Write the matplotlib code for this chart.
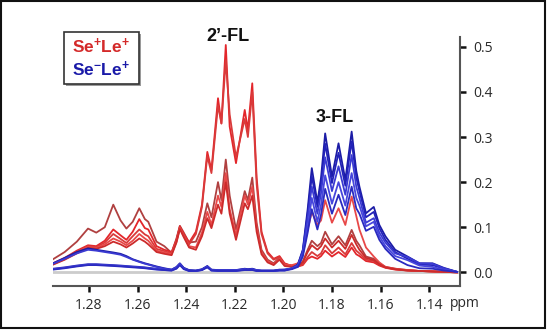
import matplotlib
matplotlib.use("Agg")
import matplotlib.pyplot as plt
from matplotlib.patches import Rectangle

plt.rcParams['mathtext.fontset'] = 'custom'
plt.rcParams['mathtext.bf'] = 'Liberation Sans:bold'
plt.rcParams['mathtext.rm'] = 'Liberation Sans'

# chemical shift grid (ppm)
ppm = [1.2948, 1.2900, 1.2850, 1.2804, 1.2770, 1.2735, 1.2700, 1.2670, 1.2646, 1.2620,
       1.2593, 1.2570, 1.2556, 1.2522, 1.2490, 1.2460, 1.2440, 1.2426, 1.2410, 1.2388,
       1.2360, 1.2335, 1.2313, 1.2296, 1.2269, 1.2255, 1.2237, 1.2221, 1.2195, 1.2159,
       1.2146, 1.2128, 1.2110, 1.2090, 1.2065, 1.2040, 1.2016, 1.1995, 1.1965, 1.1940,
       1.1920, 1.1900, 1.1883, 1.1860, 1.1845, 1.1828, 1.1800, 1.1773, 1.1745, 1.1719,
       1.1700, 1.1687, 1.1660, 1.1628, 1.1605, 1.1580, 1.1540, 1.1489, 1.1440, 1.1386,
       1.1340, 1.1285]

# Se+Le+ spectra (red)
red1 = [0.029, 0.045, 0.068, 0.097, 0.088, 0.100, 0.150, 0.115, 0.097, 0.112,
        0.142, 0.118, 0.112, 0.068, 0.058, 0.043, 0.075, 0.103, 0.088, 0.066,
        0.068, 0.100, 0.153, 0.122, 0.200, 0.160, 0.250, 0.170, 0.095, 0.180,
        0.160, 0.210, 0.110, 0.050, 0.028, 0.020, 0.033, 0.018, 0.015, 0.016,
        0.024, 0.050, 0.070, 0.058, 0.065, 0.090, 0.062, 0.080, 0.060, 0.094,
        0.070, 0.060, 0.035, 0.030, 0.020, 0.012, 0.008, 0.005, 0.003, 0.002,
        0.001, 0.000]
red2 = [0.020, 0.032, 0.048, 0.060, 0.058, 0.070, 0.095, 0.082, 0.072, 0.090,
        0.118, 0.098, 0.095, 0.058, 0.050, 0.045, 0.072, 0.102, 0.085, 0.066,
        0.090, 0.150, 0.267, 0.227, 0.386, 0.330, 0.504, 0.323, 0.242, 0.360,
        0.316, 0.419, 0.210, 0.090, 0.045, 0.030, 0.036, 0.020, 0.014, 0.013,
        0.016, 0.030, 0.035, 0.030, 0.036, 0.048, 0.035, 0.045, 0.034, 0.055,
        0.040, 0.036, 0.025, 0.022, 0.015, 0.010, 0.006, 0.004, 0.003, 0.002,
        0.001, 0.000]
red3 = [0.019, 0.030, 0.046, 0.058, 0.056, 0.066, 0.085, 0.074, 0.065, 0.080,
        0.095, 0.084, 0.080, 0.052, 0.047, 0.042, 0.070, 0.100, 0.083, 0.062,
        0.085, 0.145, 0.258, 0.220, 0.370, 0.330, 0.470, 0.350, 0.255, 0.340,
        0.300, 0.400, 0.195, 0.085, 0.042, 0.028, 0.034, 0.018, 0.013, 0.013,
        0.018, 0.034, 0.045, 0.036, 0.042, 0.060, 0.042, 0.055, 0.040, 0.065,
        0.048, 0.042, 0.028, 0.025, 0.017, 0.011, 0.007, 0.004, 0.003, 0.002,
        0.001, 0.000]
red4 = [0.018, 0.029, 0.044, 0.056, 0.054, 0.062, 0.075, 0.068, 0.060, 0.070,
        0.085, 0.075, 0.070, 0.048, 0.044, 0.040, 0.068, 0.098, 0.080, 0.058,
        0.055, 0.088, 0.134, 0.105, 0.170, 0.145, 0.220, 0.140, 0.083, 0.170,
        0.150, 0.190, 0.100, 0.045, 0.025, 0.018, 0.030, 0.017, 0.016, 0.020,
        0.040, 0.095, 0.134, 0.105, 0.115, 0.160, 0.110, 0.142, 0.105, 0.168,
        0.125, 0.095, 0.055, 0.035, 0.022, 0.012, 0.008, 0.005, 0.003, 0.002,
        0.001, 0.000]
red5 = [0.017, 0.028, 0.042, 0.054, 0.052, 0.058, 0.068, 0.062, 0.055, 0.064,
        0.075, 0.068, 0.062, 0.045, 0.041, 0.038, 0.066, 0.096, 0.078, 0.055,
        0.050, 0.080, 0.120, 0.098, 0.150, 0.130, 0.200, 0.130, 0.072, 0.153,
        0.140, 0.170, 0.090, 0.040, 0.022, 0.016, 0.028, 0.014, 0.012, 0.014,
        0.022, 0.045, 0.060, 0.050, 0.058, 0.075, 0.055, 0.070, 0.052, 0.083,
        0.062, 0.050, 0.032, 0.027, 0.018, 0.011, 0.007, 0.004, 0.003, 0.002,
        0.001, 0.000]

# Se-Le+ spectra (blue)
blue1 = [0.020, 0.032, 0.045, 0.053, 0.050, 0.047, 0.044, 0.041, 0.036, 0.029,
         0.024, 0.020, 0.018, 0.013, 0.009, 0.006, 0.012, 0.020, 0.010, 0.005,
         0.004, 0.007, 0.014, 0.006, 0.005, 0.005, 0.005, 0.005, 0.005, 0.008,
         0.007, 0.008, 0.005, 0.004, 0.004, 0.004, 0.006, 0.006, 0.008, 0.018,
         0.050, 0.140, 0.231, 0.155, 0.210, 0.308, 0.212, 0.286, 0.205, 0.312,
         0.225, 0.190, 0.131, 0.145, 0.105, 0.080, 0.050, 0.035, 0.020, 0.020,
         0.010, 0.001]
blue2 = [0.008, 0.011, 0.015, 0.018, 0.018, 0.017, 0.016, 0.015, 0.014, 0.013,
         0.012, 0.011, 0.010, 0.008, 0.006, 0.005, 0.010, 0.018, 0.009, 0.004,
         0.003, 0.006, 0.013, 0.005, 0.004, 0.004, 0.004, 0.004, 0.004, 0.007,
         0.006, 0.007, 0.004, 0.003, 0.003, 0.003, 0.005, 0.005, 0.009, 0.016,
         0.048, 0.130, 0.213, 0.145, 0.195, 0.285, 0.198, 0.265, 0.192, 0.290,
         0.210, 0.180, 0.122, 0.134, 0.098, 0.072, 0.045, 0.030, 0.017, 0.016,
         0.008, 0.001]
blue3 = [0.019, 0.030, 0.042, 0.050, 0.048, 0.045, 0.042, 0.039, 0.034, 0.028,
         0.023, 0.019, 0.017, 0.012, 0.008, 0.006, 0.011, 0.019, 0.009, 0.004,
         0.004, 0.006, 0.013, 0.005, 0.005, 0.005, 0.005, 0.005, 0.005, 0.007,
         0.006, 0.007, 0.005, 0.004, 0.004, 0.004, 0.005, 0.006, 0.009, 0.016,
         0.045, 0.120, 0.190, 0.130, 0.175, 0.255, 0.180, 0.235, 0.172, 0.260,
         0.190, 0.165, 0.110, 0.120, 0.088, 0.066, 0.042, 0.034, 0.020, 0.019,
         0.009, 0.001]
blue4 = [0.007, 0.010, 0.014, 0.017, 0.017, 0.016, 0.015, 0.014, 0.013, 0.012,
         0.011, 0.010, 0.009, 0.007, 0.005, 0.004, 0.009, 0.017, 0.008, 0.003,
         0.003, 0.005, 0.012, 0.004, 0.003, 0.003, 0.003, 0.003, 0.003, 0.006,
         0.005, 0.006, 0.003, 0.003, 0.003, 0.003, 0.004, 0.004, 0.008, 0.014,
         0.040, 0.100, 0.165, 0.112, 0.150, 0.215, 0.152, 0.200, 0.148, 0.220,
         0.165, 0.148, 0.102, 0.112, 0.080, 0.058, 0.036, 0.027, 0.015, 0.012,
         0.006, 0.001]
blue5 = [0.006, 0.009, 0.013, 0.016, 0.016, 0.015, 0.014, 0.013, 0.012, 0.011,
         0.010, 0.009, 0.008, 0.006, 0.005, 0.004, 0.008, 0.016, 0.007, 0.003,
         0.003, 0.005, 0.011, 0.004, 0.003, 0.003, 0.003, 0.003, 0.003, 0.005,
         0.005, 0.005, 0.003, 0.003, 0.003, 0.003, 0.004, 0.004, 0.007, 0.012,
         0.035, 0.088, 0.140, 0.095, 0.128, 0.185, 0.130, 0.172, 0.127, 0.190,
         0.142, 0.130, 0.092, 0.101, 0.072, 0.052, 0.030, 0.016, 0.009, 0.008,
         0.004, 0.001]

red_series = [red1, red2, red3, red4, red5]
blue_series = [blue1, blue2, blue3, blue4, blue5]
red_colors = ['#b04040', '#e3262b', '#d93a3a', '#e84848', '#cc2b2b']
blue_colors = ['#1c1ca6', '#2222b8', '#3a3ad2', '#4646dc', '#2a2ac0']

xticks = [1.28, 1.26, 1.24, 1.22, 1.20, 1.18, 1.16, 1.14]
xticklabels = ['1.28', '1.26', '1.24', '1.22', '1.20', '1.18', '1.16', '1.14']
yticks = [0.0, 0.1, 0.2, 0.3, 0.4, 0.5]
yticklabels = ['0.0', '0.1', '0.2', '0.3', '0.4', '0.5']

fig = plt.figure(figsize=(5.5, 3.3), dpi=100)
ax = fig.add_axes([0.0964, 0.1342, 0.74, 0.7546])

ax.axhline(0.0, color='#cccccc', lw=2.0, zorder=1)
for ys, c in zip(red_series, red_colors):
    ax.plot(ppm, ys, color=c, lw=1.3, zorder=2, solid_joinstyle='round')
for ys, c in zip(blue_series, blue_colors):
    ax.plot(ppm, ys, color=c, lw=1.3, zorder=3, solid_joinstyle='round')

ax.set_xlim(1.2948, 1.1273)
ax.set_ylim(-0.0297, 0.5224)
for s in ['left', 'top']:
    ax.spines[s].set_visible(False)
for s in ['right', 'bottom']:
    ax.spines[s].set_color('#555555')
    ax.spines[s].set_linewidth(1.5)
ax.yaxis.tick_right()
ax.set_xticks(xticks)
ax.set_xticklabels(xticklabels)
ax.set_yticks(yticks)
ax.set_yticklabels(yticklabels)
ax.tick_params(axis='both', direction='out', length=4.5, width=1.8, color='#111111',
               labelsize=10, labelcolor='#2a2a2a')
ax.tick_params(axis='y', pad=5)
ax.tick_params(axis='x', pad=4)
for lab in ax.get_xticklabels() + ax.get_yticklabels():
    lab.set_family('Open Sans')

fig.text(0.845, 0.079, 'ppm', ha='center', va='center', fontsize=10,
         color='#2a2a2a', family='Open Sans')

ax.text(1.2228, 0.505, '2’-FL', transform=ax.transData, ha='center', va='bottom',
        fontsize=13, fontweight='bold', family='Liberation Sans', color='#111111')
ax.text(1.1790, 0.325, '3-FL', transform=ax.transData, ha='center', va='bottom',
        fontsize=13, fontweight='bold', family='Liberation Sans', color='#111111')

# legend box with shadow
shadow = Rectangle((66 / 550, 1 - 86 / 330), 75 / 550, 52 / 330, transform=fig.transFigure,
                   facecolor='#9a9a9a', edgecolor='none', zorder=5)
box = Rectangle((64 / 550, 1 - 84 / 330), 75 / 550, 52 / 330, transform=fig.transFigure,
                facecolor='white', edgecolor='#333333', lw=1.2, zorder=6)
fig.patches.extend([shadow, box])
fig.text(101 / 550, 1 - 47 / 330, r'$\mathbf{Se^{+}Le^{+}}$', ha='center', va='center',
         fontsize=12.5, color='#d42a2a', zorder=7)
fig.text(101 / 550, 1 - 70 / 330, r'$\mathbf{Se^{-}Le^{+}}$', ha='center', va='center',
         fontsize=12.5, color='#1a1aa8', zorder=7)

# outer frame
frame = Rectangle((0.002, 0.006), 0.989, 0.991, transform=fig.transFigure,
                  facecolor='none', edgecolor='#111111', lw=1.5, zorder=10)
fig.patches.append(frame)

fig.savefig('out.png', dpi=100)
